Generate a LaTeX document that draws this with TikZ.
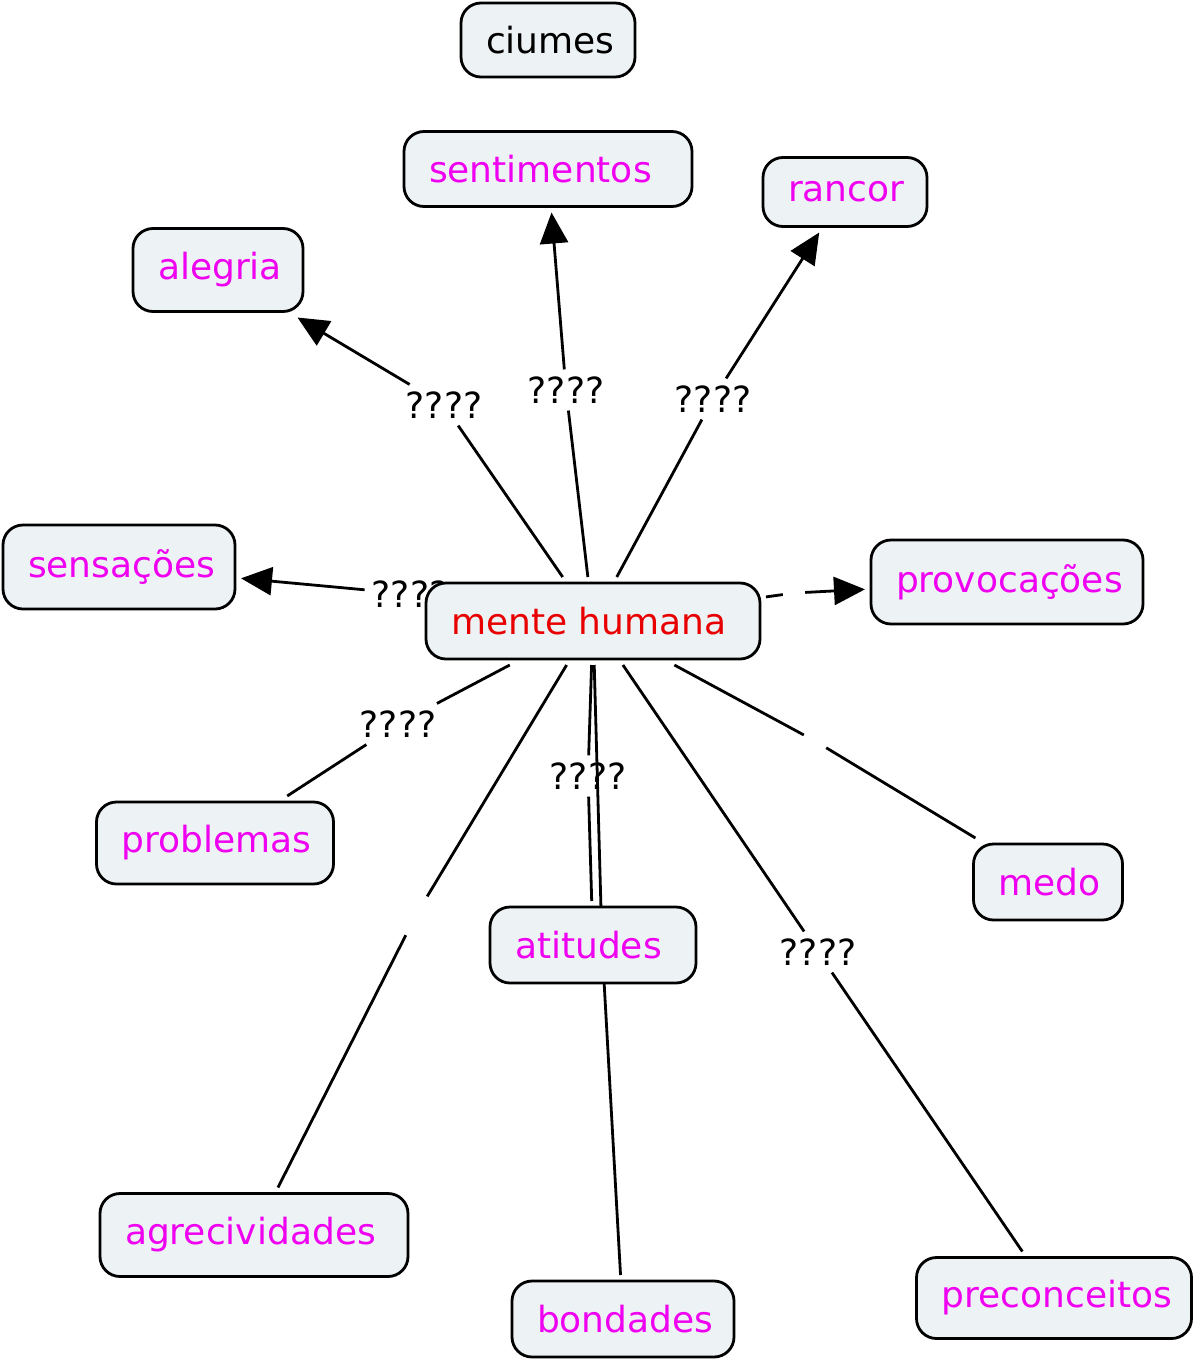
\documentclass[tikz,border=0pt]{standalone}
\usepackage{fontspec}
\setmainfont{DejaVu Sans}
\usetikzlibrary{arrows.meta}
\definecolor{boxfill}{HTML}{EDF3F4}
\definecolor{conceptmag}{HTML}{F000F0}
\definecolor{conceptred}{HTML}{E80000}
\pgfdeclarelayer{bg}
\pgfsetlayers{bg,main}
\newcommand{\boxtxt}[2]{\makebox[#1pt][l]{#2}}
\tikzset{
  concept/.style={draw=black, line width=2.8pt, rounded corners=20pt, fill=boxfill,
    text=conceptmag, font=\fontsize{36}{40}\selectfont, inner xsep=25pt, inner ysep=0pt,
    outer sep=6pt},
  linklabel/.style={font=\fontsize{36}{40}\selectfont, text=black, inner sep=7pt},
  emptylabel/.style={rectangle, minimum width=22pt, minimum height=40pt, inner sep=0pt},
  conn/.style={line width=2.8pt, black},
  arr/.style={conn, -{Triangle[length=31pt,width=28pt]}},
}
\begin{document}
\begin{tikzpicture}[x=1pt,y=-1pt]
\useasboundingbox (0,0) rectangle (1199,1365);

% link labels
\node[linklabel] (l1) at (444,405) {????};
\node[linklabel] (l2) at (566,390) {????};
\node[linklabel] (l3) at (713,399) {????};
\node[linklabel] (l4) at (410,594) {????};
\node[linklabel] (l6) at (398,724) {????};
\node[linklabel] (l8) at (588,776) {????};
\node[linklabel] (l10) at (818,952) {????};
\node[emptylabel] (e5) at (794,593) {};
\node[emptylabel] (e7) at (416,915) {};
\node[emptylabel] (e9) at (815,741) {};
\coordinate (e11) at (602,945);

% concepts
\node[concept, text=black, minimum height=74pt] (ciumes) at (548,40) {\boxtxt{124}{ciumes}};
\node[concept, minimum height=75pt] (sentimentos) at (548,169) {\boxtxt{238}{sentimentos}};
\node[concept, minimum height=69pt] (rancor) at (845,192) {\boxtxt{114}{rancor}};
\node[concept, minimum height=83pt] (alegria) at (218,270) {\boxtxt{120}{alegria}};
\node[concept, minimum height=84pt] (sensacoes) at (119,567) {\boxtxt{182}{sensações}};
\node[concept, text=conceptred, minimum height=76pt] (mente) at (593,621) {\boxtxt{284}{mente humana}};
\node[concept, minimum height=84pt] (provocacoes) at (1007,582) {\boxtxt{222}{provocações}};
\node[concept, minimum height=82pt] (problemas) at (215,843) {\boxtxt{187}{problemas}};
\node[concept, minimum height=76pt] (medo) at (1048,882) {\boxtxt{99}{medo}};
\node[concept, minimum height=76pt] (atitudes) at (593,945) {\boxtxt{156}{atitudes}};
\node[concept, minimum height=83pt] (agrecividades) at (254,1235) {\boxtxt{258}{agrecividades}};
\node[concept, minimum height=76pt] (bondades) at (623,1319) {\boxtxt{172}{bondades}};
\node[concept, minimum height=81pt] (preconceitos) at (1054,1298) {\boxtxt{225}{preconceitos}};

\begin{pgfonlayer}{bg}
\draw[conn] (mente) -- (l1);  \draw[arr] (l1) -- (alegria);
\draw[conn] (mente) -- (l2);  \draw[arr] (l2) -- (sentimentos);
\draw[conn] (mente) -- (l3);  \draw[arr] (l3) -- (rancor);
\draw[arr] (l4) -- (sensacoes);
\draw[conn] (mente) -- (e5);  \draw[arr] (e5) -- (provocacoes);
\draw[conn] (mente) -- (l6);  \draw[conn] (l6) -- (problemas);
\draw[conn] (mente) -- (e7);  \draw[conn] (e7) -- (agrecividades);
\draw[conn] (mente) -- (l8);  \draw[conn] (l8) -- (atitudes);
\draw[conn] (mente) -- (e9);  \draw[conn] (e9) -- (medo);
\draw[conn] (mente) -- (l10); \draw[conn] (l10) -- (preconceitos);
\draw[conn] (mente) -- (e11); \draw[conn] (e11) -- (bondades);
\end{pgfonlayer}
\end{tikzpicture}
\end{document}
